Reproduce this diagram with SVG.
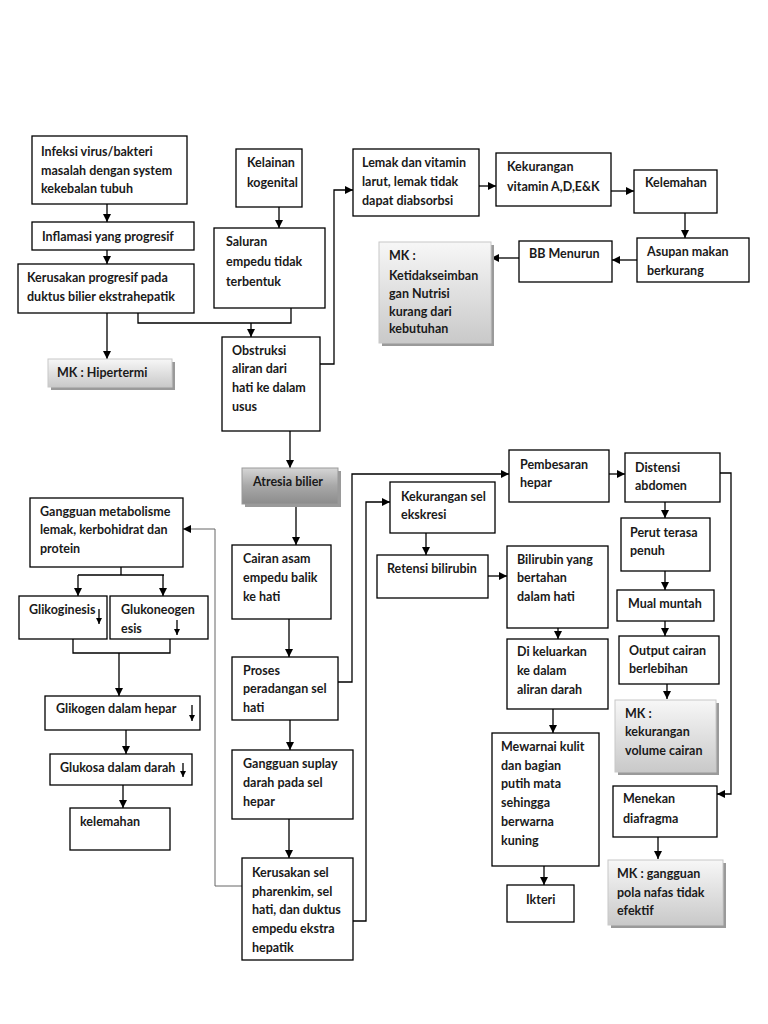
<svg xmlns="http://www.w3.org/2000/svg" width="768" height="1024" viewBox="0 0 768 1024">
<style>
.b{fill:#fff;stroke:#000;stroke-width:1.3}
.mk{stroke:#c8c8c8;stroke-width:1;fill:url(#gl)}
.sh{fill:#9a9a9a}
text{font-family:Lato,"Open Sans","Liberation Sans",sans-serif;font-size:12.5px;font-weight:bold;fill:#1a1a1a}
.c path{fill:none;stroke:#000;stroke-width:1.3}
.c path.g{stroke:#666;stroke-width:1}
</style>
<defs>
<marker id="a" viewBox="0 0 10 10" refX="10" refY="5" markerWidth="8" markerHeight="8" orient="auto" markerUnits="userSpaceOnUse"><path d="M0,0 L10,5 L0,10 z" fill="#000"/></marker>
<marker id="s" viewBox="0 0 10 10" refX="10" refY="5" markerWidth="6" markerHeight="6" orient="auto" markerUnits="userSpaceOnUse"><path d="M0,0 L10,5 L0,10 z" fill="#000"/></marker>
<linearGradient id="gl" x1="0" y1="0" x2="0" y2="1"><stop offset="0" stop-color="#f7f7f7"/><stop offset="1" stop-color="#c9c9c9"/></linearGradient>
<linearGradient id="gd" x1="0" y1="0" x2="0" y2="1"><stop offset="0" stop-color="#d6d6d6"/><stop offset="0.5" stop-color="#a8a8a8"/><stop offset="1" stop-color="#8c8c8c"/></linearGradient>
</defs>
<rect width="768" height="1024" fill="#fff"/>

<g class="c" id="connectors">
<path d="M107,204 V222" marker-end="url(#a)"/>
<path d="M107,250 V264" marker-end="url(#a)"/>
<path d="M107,313 V359" marker-end="url(#a)"/>
<path d="M279,207 V228" marker-end="url(#a)"/>
<path d="M138,313 V323 H291 V308"/>
<path d="M251,323 V337" marker-end="url(#a)"/>
<path d="M320,364 H334 V190 H353" marker-end="url(#a)"/>
<path d="M479,186 H496" marker-end="url(#a)"/>
<path d="M611,191 H634" marker-end="url(#a)"/>
<path d="M685,213 V238" marker-end="url(#a)"/>
<path d="M637,260 H612" marker-end="url(#a)"/>
<path d="M519,258 H491" marker-end="url(#a)"/>
<path d="M290,431 V468" marker-end="url(#a)"/>
<path d="M296,504 V545" marker-end="url(#a)"/>
<path d="M289,619 V657" marker-end="url(#a)"/>
<path d="M338,682 H352 V474 H509" marker-end="url(#a)"/>
<path d="M290,720 V750" marker-end="url(#a)"/>
<path d="M289,819 V858" marker-end="url(#a)"/>
<path class="g" d="M242,886 H215 V529 H183" marker-end="url(#a)"/>
<path d="M353,921 H366 V502 H390" marker-end="url(#a)"/>
<path d="M426,533 V555" marker-end="url(#a)"/>
<path d="M488,576 H507" marker-end="url(#a)"/>
<path d="M558,628 V639" marker-end="url(#a)"/>
<path d="M553,709 V733" marker-end="url(#a)"/>
<path d="M544,866 V885" marker-end="url(#a)"/>
<path d="M609,474 H625" marker-end="url(#a)"/>
<path d="M720,473 H731 V794 H717" marker-end="url(#a)"/>
<path d="M665,502 V518" marker-end="url(#a)"/>
<path d="M665,571 V590" marker-end="url(#a)"/>
<path d="M665,621 V636" marker-end="url(#a)"/>
<path d="M667,684 V699" marker-end="url(#a)"/>
<path d="M658,837 V859" marker-end="url(#a)"/>
<path d="M121,567 V575 M78,575 H164"/>
<path d="M78,575 V596" marker-end="url(#a)"/>
<path d="M163,575 V596" marker-end="url(#a)"/>
<path d="M73,639 V653 H170 V639"/>
<path d="M119,653 V696" marker-end="url(#a)"/>
<path d="M126,730 V754" marker-end="url(#a)"/>
<path d="M123,785 V808" marker-end="url(#a)"/>
</g>

<g id="n-infeksi"><rect class="b" x="32" y="136" width="155" height="68"/><text x="41" y="156">Infeksi virus/bakteri</text><text x="41" y="175">masalah dengan system</text><text x="41" y="193">kekebalan tubuh</text></g>
<g id="n-inflamasi"><rect class="b" x="32" y="222" width="162" height="28"/><text x="42" y="241">Inflamasi yang progresif</text></g>
<g id="n-kerusakan-progresif"><rect class="b" x="18" y="264" width="176" height="49"/><text x="27" y="282">Kerusakan progresif pada</text><text x="27" y="301">duktus bilier ekstrahepatik</text></g>
<g id="n-mk-hipertermi"><rect class="sh" x="51" y="362" width="124" height="28"/><rect class="mk" x="48" y="359" width="124" height="28"/><text x="57" y="377">MK : Hipertermi</text></g>
<g id="n-kelainan"><rect class="b" x="236" y="149" width="66" height="58"/><text x="247" y="167">Kelainan</text><text x="247" y="187">kogenital</text></g>
<g id="n-saluran"><rect class="b" x="214" y="228" width="111" height="80"/><text x="226" y="246">Saluran</text><text x="226" y="266">empedu tidak</text><text x="226" y="286">terbentuk</text></g>
<g id="n-obstruksi"><rect class="b" x="222" y="337" width="98" height="94"/><text x="232" y="355">Obstruksi</text><text x="232" y="373">aliran dari</text><text x="232" y="392">hati ke dalam</text><text x="232" y="411">usus</text></g>
<g id="n-lemak"><rect class="b" x="353" y="149" width="126" height="67"/><text x="362" y="167">Lemak dan vitamin</text><text x="362" y="186">larut, lemak tidak</text><text x="362" y="205">dapat diabsorbsi</text></g>
<g id="n-kekurangan-vitamin"><rect class="b" x="496" y="153" width="115" height="53"/><text x="507" y="171">Kekurangan</text><text x="507" y="191">vitamin A,D,E&amp;K</text></g>
<g id="n-kelemahan1"><rect class="b" x="634" y="170" width="83" height="43"/><text x="645" y="187">Kelemahan</text></g>
<g id="n-asupan"><rect class="b" x="637" y="238" width="112" height="44"/><text x="647" y="256">Asupan makan</text><text x="647" y="275">berkurang</text></g>
<g id="n-bb"><rect class="b" x="519" y="241" width="93" height="41"/><text x="529" y="258">BB Menurun</text></g>
<g id="n-mk-nutrisi"><rect class="sh" x="382" y="245" width="112" height="101"/><rect class="mk" x="379" y="242" width="112" height="101"/><text x="389" y="260">MK :</text><text x="389" y="280">Ketidakseimban</text><text x="389" y="298">gan Nutrisi</text><text x="389" y="316">kurang dari</text><text x="389" y="333">kebutuhan</text></g>
<g id="n-atresia"><rect class="sh" x="245" y="471" width="96" height="36"/><rect x="242" y="468" width="96" height="36" fill="url(#gd)" stroke="#999" stroke-width="1"/><text x="253" y="486">Atresia bilier</text></g>
<g id="n-cairan"><rect class="b" x="232" y="545" width="99" height="74"/><text x="243" y="563">Cairan asam</text><text x="243" y="582">empedu balik</text><text x="243" y="601">ke hati</text></g>
<g id="n-proses"><rect class="b" x="232" y="657" width="106" height="63"/><text x="243" y="675">Proses</text><text x="243" y="693">peradangan sel</text><text x="243" y="712">hati</text></g>
<g id="n-gangguan-suplay"><rect class="b" x="232" y="750" width="121" height="69"/><text x="243" y="768">Gangguan suplay</text><text x="243" y="787">darah pada sel</text><text x="243" y="806">hepar</text></g>
<g id="n-kerusakan-sel"><rect class="b" x="242" y="858" width="111" height="102"/><text x="252" y="877">Kerusakan sel</text><text x="252" y="896">pharenkim, sel</text><text x="252" y="914">hati, dan duktus</text><text x="252" y="933">empedu ekstra</text><text x="252" y="952">hepatik</text></g>
<g id="n-gangguan-metabolisme"><rect class="b" x="30" y="498" width="153" height="69"/><text x="40" y="516">Gangguan metabolisme</text><text x="40" y="534">lemak, kerbohidrat dan</text><text x="40" y="553">protein</text></g>
<g id="n-glikoginesis"><rect class="b" x="19" y="596" width="88" height="43"/><text x="29" y="614">Glikoginesis</text><path d="M99,609 V624" stroke="#000" stroke-width="1.3" marker-end="url(#s)"/></g>
<g id="n-glukoneogenesis"><rect class="b" x="110" y="596" width="98" height="43"/><text x="121" y="614">Glukoneogen</text><text x="121" y="633">esis</text><path d="M177,620 V635" stroke="#000" stroke-width="1.3" marker-end="url(#s)"/></g>
<g id="n-glikogen"><rect class="b" x="45" y="696" width="155" height="34"/><text x="56" y="713">Glikogen dalam hepar</text><path d="M192,705 V721" stroke="#000" stroke-width="1.3" marker-end="url(#s)"/></g>
<g id="n-glukosa"><rect class="b" x="50" y="754" width="142" height="31"/><text x="60" y="772">Glukosa dalam darah</text><path d="M183,763 V777" stroke="#000" stroke-width="1.3" marker-end="url(#s)"/></g>
<g id="n-kelemahan2"><rect class="b" x="70" y="808" width="100" height="42"/><text x="80" y="826">kelemahan</text></g>
<g id="n-pembesaran"><rect class="b" x="509" y="450" width="100" height="52"/><text x="520" y="469">Pembesaran</text><text x="520" y="487">hepar</text></g>
<g id="n-kekurangan-sel"><rect class="b" x="390" y="482" width="105" height="51"/><text x="401" y="501">Kekurangan sel</text><text x="401" y="519">ekskresi</text></g>
<g id="n-retensi"><rect class="b" x="377" y="555" width="111" height="43"/><text x="387" y="573">Retensi bilirubin</text></g>
<g id="n-bilirubin"><rect class="b" x="507" y="546" width="101" height="82"/><text x="517" y="564">Bilirubin yang</text><text x="517" y="582">bertahan</text><text x="517" y="601">dalam hati</text></g>
<g id="n-dikeluarkan"><rect class="b" x="507" y="639" width="101" height="70"/><text x="517" y="656">Di keluarkan</text><text x="517" y="675">ke dalam</text><text x="517" y="694">aliran darah</text></g>
<g id="n-mewarnai"><rect class="b" x="492" y="733" width="107" height="133"/><text x="501" y="751">Mewarnai kulit</text><text x="501" y="770">dan bagian</text><text x="501" y="788">putih mata</text><text x="501" y="807">sehingga</text><text x="501" y="826">berwarna</text><text x="501" y="845">kuning</text></g>
<g id="n-ikteri"><rect class="b" x="507" y="885" width="67" height="37"/><text x="526" y="904">Ikteri</text></g>
<g id="n-distensi"><rect class="b" x="625" y="453" width="95" height="49"/><text x="635" y="472">Distensi</text><text x="635" y="490">abdomen</text></g>
<g id="n-perut"><rect class="b" x="621" y="518" width="89" height="53"/><text x="630" y="537">Perut terasa</text><text x="630" y="555">penuh</text></g>
<g id="n-mual"><rect class="b" x="617" y="590" width="97" height="31"/><text x="628" y="608">Mual muntah</text></g>
<g id="n-output"><rect class="b" x="619" y="636" width="100" height="48"/><text x="629" y="655">Output cairan</text><text x="629" y="673">berlebihan</text></g>
<g id="n-mk-volume"><rect class="sh" x="618" y="703" width="101" height="72"/><rect class="mk" x="615" y="700" width="101" height="72"/><text x="625" y="718">MK :</text><text x="625" y="736">kekurangan</text><text x="625" y="755">volume cairan</text></g>
<g id="n-menekan"><rect class="b" x="613" y="786" width="104" height="51"/><text x="623" y="803">Menekan</text><text x="623" y="823">diafragma</text></g>
<g id="n-mk-pola"><rect class="sh" x="611" y="863" width="115" height="65"/><rect class="mk" x="608" y="860" width="115" height="65"/><text x="617" y="878">MK : gangguan</text><text x="617" y="897">pola nafas tidak</text><text x="617" y="915">efektif</text></g>
</svg>
